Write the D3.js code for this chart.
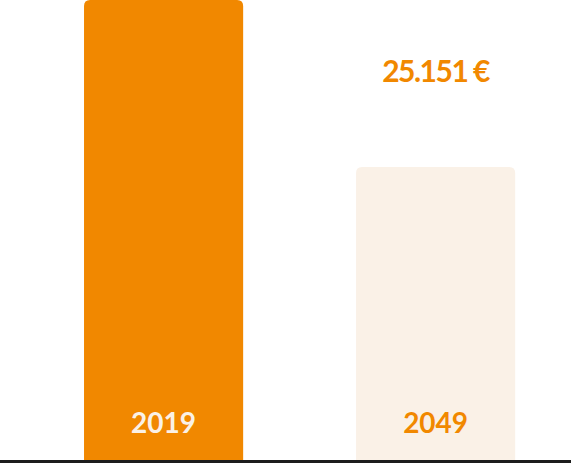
<!DOCTYPE html>
<html>
<head>
<meta charset="utf-8">
<style>
  html, body { margin: 0; padding: 0; background: #fff; }
  svg { display: block; }
</style>
</head>
<body>
<svg id="chart" width="571" height="464"></svg>
<script src="https://cdn.jsdelivr.net/npm/d3@7"></script>
<script>
// data
const years = ["2019", "2049"];
const values = [39500, 25151];
const valueLabels = ["", "25.151 €"];

const width = 571, height = 464;
const baseY = 460;
const orange = "#f18800", cream = "#faf1e7";

const svg = d3.select("#chart");

const x = d3.scaleBand()
    .domain(years)
    .range([40.5, 558.7])
    .paddingInner(0.415)
    .paddingOuter(0.16);

const y = d3.scaleLinear()
    .domain([0, d3.max(values)])
    .range([baseY, 0]);

// bar with rounded top corners only
function barPath(x0, y0, w, h, r) {
    return `M${x0},${y0 + h}V${y0 + r}Q${x0},${y0} ${x0 + r},${y0}` +
           `H${x0 + w - r}Q${x0 + w},${y0} ${x0 + w},${y0 + r}V${y0 + h}Z`;
}

const rows = years.map((yr, i) => ({ year: yr, value: values[i], label: valueLabels[i], i }));

svg.append("g")
  .selectAll("path")
  .data(rows)
  .join("path")
    .attr("d", d => barPath(x(d.year), y(d.value), x.bandwidth(), baseY - y(d.value), 6))
    .attr("fill", d => d.i === 0 ? orange : cream);

// year labels inside the bars
svg.append("g")
  .selectAll("text")
  .data(rows)
  .join("text")
    .attr("x", d => x(d.year) + x.bandwidth() / 2)
    .attr("y", 433)
    .attr("text-anchor", "middle")
    .attr("font-family", "Lato, 'Open Sans', sans-serif")
    .attr("font-weight", 700)
    .attr("font-size", "28px")
    .attr("fill", d => d.i === 0 ? cream : orange)
    .text(d => d.year);

// value label above the bar
svg.append("g")
  .selectAll("text")
  .data(rows.filter(d => d.label))
  .join("text")
    .attr("x", d => x(d.year) + x.bandwidth() / 2)
    .attr("y", d => y(d.value) - 85)
    .attr("text-anchor", "middle")
    .attr("font-family", "Lato, 'Open Sans', sans-serif")
    .attr("font-weight", 700)
    .attr("font-size", "30px")
    .attr("letter-spacing", "-1.5px")
    .attr("fill", orange)
    .text(d => d.label);

// baseline
svg.append("line")
    .attr("x1", 0).attr("x2", width)
    .attr("y1", baseY + 1.5).attr("y2", baseY + 1.5)
    .attr("stroke", "#1c1c1c")
    .attr("stroke-width", 3);
</script>
</body>
</html>
